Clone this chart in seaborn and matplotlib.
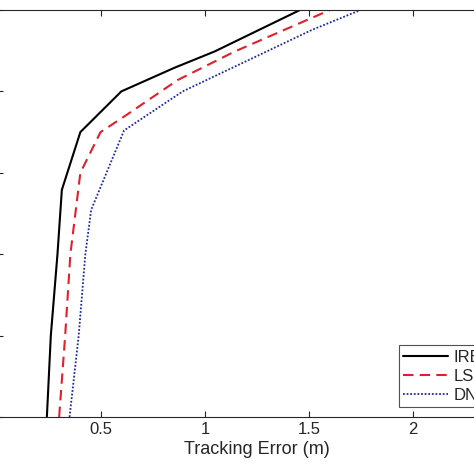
import matplotlib
matplotlib.use("Agg")
import matplotlib.pyplot as plt
import seaborn as sns
import pandas as pd

# curves (tracking error, cumulative probability)
ire_x = [0.239, 0.258, 0.290, 0.311, 0.400, 0.597, 0.852, 1.045, 1.456]
ire_y = [0.0, 0.2, 0.4, 0.558, 0.70, 0.80, 0.858, 0.898, 1.0]
ls_x = [0.298, 0.327, 0.352, 0.376, 0.400, 0.497, 0.610, 0.868, 1.142, 1.600]
ls_y = [0.0, 0.2, 0.4, 0.5, 0.6, 0.70, 0.738, 0.828, 0.898, 1.0]
dn_x = [0.348, 0.392, 0.424, 0.452, 0.610, 0.892, 1.513, 1.747]
dn_y = [0.0, 0.2, 0.4, 0.509, 0.704, 0.80, 0.951, 1.0]
labels = ["IREKF", "LSE", "DNN"]

sns.set_style("white")
plt.rcParams["font.family"] = ["Liberation Sans", "DejaVu Sans"]

fig = plt.figure(figsize=(4.74, 4.74), dpi=100)
ax = fig.add_axes([-0.006, 1 - 417 / 474, 520 / 474, 407 / 474])

styles = [("black", "-", 1.5), ("#e0202a", (0, (5, 3)), 1.5), ("#1f2aa8", (0, (1, 1)), 1.3)]
for xs, ys, lab, (c, ls, lw) in zip([ire_x, ls_x, dn_x], [ire_y, ls_y, dn_y], labels, styles):
    df = pd.DataFrame({"x": xs, "y": ys})
    sns.lineplot(data=df, x="x", y="y", ax=ax, color=c, linestyle=ls, lw=lw,
                 label=lab, sort=False, estimator=None)

ax.set_xlim(0, 2.5)
ax.set_ylim(0, 1)
ax.set_xticks([0.5, 1, 1.5, 2])
ax.set_xticklabels(["0.5", "1", "1.5", "2"])
ax.set_yticks([0, 0.2, 0.4, 0.6, 0.8, 1])
ax.set_yticklabels([])
ax.tick_params(direction="in", length=4, labelsize=12, colors="#262626", top=True, left=True, bottom=True)
ax.set_xlabel("Tracking Error (m)", fontsize=13, color="#262626", labelpad=3)
ax.set_ylabel("")
for s in ax.spines.values():
    s.set_color("#262626")
    s.set_linewidth(0.8)

leg = ax.legend(loc="lower left", bbox_to_anchor=(399 / 474, 1 - 407 / 474),
                bbox_transform=fig.transFigure, frameon=True, fancybox=False,
                fontsize=12, handlelength=2.7, handletextpad=0.3, borderpad=0.25,
                labelspacing=0.25, borderaxespad=0)
leg.get_frame().set_edgecolor("#262626")
leg.get_frame().set_linewidth(0.8)

fig.savefig("out.png", dpi=100)
